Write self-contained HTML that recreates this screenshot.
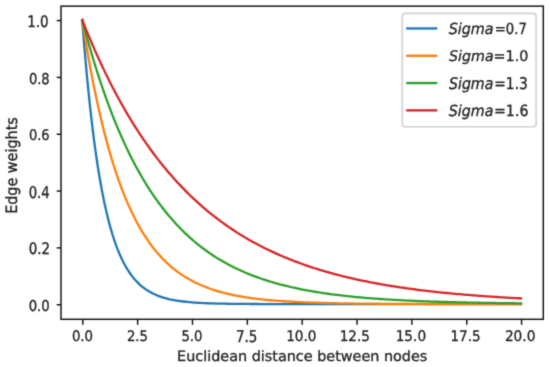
<!DOCTYPE html><html><head><meta charset="utf-8"><title>Edge weights</title><style>html,body{margin:0;padding:0;background:#fff}body{width:550px;height:367px;overflow:hidden}</style></head><body><svg width="550" height="367" viewBox="0 0 550 367" style="display:block">
<defs><filter id="soft" filterUnits="userSpaceOnUse" x="0" y="0" width="550" height="367" color-interpolation-filters="sRGB"><feConvolveMatrix order="3" kernelMatrix="0.01917 0.10012 0.01917 0.10012 0.52283 0.10012 0.01917 0.10012 0.01917" divisor="1" edgeMode="duplicate" preserveAlpha="false"/></filter></defs>
<rect width="550" height="367" fill="#fff"/>
<g filter="url(#soft)">
<g fill="none" stroke-width="2.29" stroke-linecap="square" stroke-linejoin="round">
<polyline points="82.21,19.96 84.41,47.52 86.60,72.41 88.80,94.88 90.99,115.18 93.18,133.51 95.38,150.05 97.57,165.00 99.77,178.49 101.96,190.67 104.15,201.68 106.35,211.61 108.54,220.58 110.74,228.68 112.93,236.00 115.12,242.60 117.32,248.57 119.51,253.96 121.71,258.82 123.90,263.21 126.09,267.18 128.29,270.76 130.48,273.99 132.67,276.91 134.87,279.55 137.06,281.93 139.26,284.08 141.45,286.02 143.64,287.77 145.84,289.36 148.03,290.79 150.23,292.08 152.42,293.24 154.61,294.29 156.81,295.25 159.00,296.10 161.20,296.88 163.39,297.58 165.58,298.21 167.78,298.78 169.97,299.30 172.17,299.76 174.36,300.18 176.55,300.56 178.75,300.90 180.94,301.21 183.14,301.49 185.33,301.74 187.52,301.97 189.72,302.18 191.91,302.36 194.10,302.53 196.30,302.68 198.49,302.82 200.69,302.94 202.88,303.05 205.07,303.15 207.27,303.25 209.46,303.33 211.66,303.40 213.85,303.47 216.04,303.53 218.24,303.58 220.43,303.63 222.63,303.68 224.82,303.72 227.01,303.75 229.21,303.79 231.40,303.82 233.60,303.84 235.79,303.87 237.98,303.89 240.18,303.91 242.37,303.93 244.56,303.94 246.76,303.96 248.95,303.97 251.15,303.98 253.34,303.99 255.53,304.00 257.73,304.01 259.92,304.02 262.12,304.03 264.31,304.03 266.50,304.04 268.70,304.04 270.89,304.05 273.09,304.05 275.28,304.06 277.47,304.06 279.67,304.06 281.86,304.07 284.06,304.07 286.25,304.07 288.44,304.07 290.64,304.07 292.83,304.08 295.03,304.08 297.22,304.08 299.41,304.08 301.61,304.08 303.80,304.08 305.99,304.08 308.19,304.08 310.38,304.09 312.58,304.09 314.77,304.09 316.96,304.09 319.16,304.09 321.35,304.09 323.55,304.09 325.74,304.09 327.93,304.09 330.13,304.09 332.32,304.09 334.52,304.09 336.71,304.09 338.90,304.09 341.10,304.09 343.29,304.09 345.49,304.09 347.68,304.09 349.87,304.09 352.07,304.09 354.26,304.09 356.45,304.09 358.65,304.09 360.84,304.09 363.04,304.09 365.23,304.09 367.42,304.09 369.62,304.09 371.81,304.09 374.01,304.09 376.20,304.09 378.39,304.09 380.59,304.09 382.78,304.09 384.98,304.09 387.17,304.09 389.36,304.09 391.56,304.09 393.75,304.09 395.95,304.09 398.14,304.09 400.33,304.09 402.53,304.09 404.72,304.09 406.91,304.09 409.11,304.09 411.30,304.09 413.50,304.09 415.69,304.09 417.88,304.09 420.08,304.09 422.27,304.09 424.47,304.09 426.66,304.09 428.85,304.09 431.05,304.09 433.24,304.09 435.44,304.09 437.63,304.09 439.82,304.09 442.02,304.09 444.21,304.09 446.41,304.09 448.60,304.09 450.79,304.09 452.99,304.09 455.18,304.09 457.38,304.09 459.57,304.09 461.76,304.09 463.96,304.09 466.15,304.09 468.34,304.09 470.54,304.09 472.73,304.09 474.93,304.09 477.12,304.09 479.31,304.09 481.51,304.09 483.70,304.09 485.90,304.09 488.09,304.09 490.28,304.09 492.48,304.09 494.67,304.09 496.87,304.09 499.06,304.09 501.25,304.09 503.45,304.09 505.64,304.09 507.84,304.09 510.03,304.09 512.22,304.09 514.42,304.09 516.61,304.09 518.80,304.09 521.00,304.09" stroke="#1f77b4"/>
<polyline points="82.21,19.96 84.41,33.81 86.60,47.00 88.80,59.54 90.99,71.46 93.18,82.81 95.38,93.60 97.57,103.87 99.77,113.63 101.96,122.92 104.15,131.76 106.35,140.16 108.54,148.16 110.74,155.76 112.93,163.00 115.12,169.88 117.32,176.42 119.51,182.65 121.71,188.57 123.90,194.21 126.09,199.56 128.29,204.66 130.48,209.51 132.67,214.12 134.87,218.51 137.06,222.69 139.26,226.66 141.45,230.43 143.64,234.03 145.84,237.44 148.03,240.69 150.23,243.79 152.42,246.73 154.61,249.52 156.81,252.19 159.00,254.72 161.20,257.12 163.39,259.42 165.58,261.59 167.78,263.67 169.97,265.64 172.17,267.51 174.36,269.30 176.55,270.99 178.75,272.61 180.94,274.14 183.14,275.61 185.33,276.99 187.52,278.32 189.72,279.57 191.91,280.77 194.10,281.91 196.30,282.99 198.49,284.02 200.69,285.00 202.88,285.93 205.07,286.81 207.27,287.66 209.46,288.46 211.66,289.22 213.85,289.95 216.04,290.64 218.24,291.29 220.43,291.92 222.63,292.51 224.82,293.07 227.01,293.61 229.21,294.12 231.40,294.61 233.60,295.07 235.79,295.51 237.98,295.93 240.18,296.33 242.37,296.71 244.56,297.07 246.76,297.41 248.95,297.74 251.15,298.05 253.34,298.34 255.53,298.62 257.73,298.89 259.92,299.14 262.12,299.38 264.31,299.61 266.50,299.83 268.70,300.04 270.89,300.24 273.09,300.42 275.28,300.60 277.47,300.77 279.67,300.94 281.86,301.09 284.06,301.24 286.25,301.38 288.44,301.51 290.64,301.63 292.83,301.75 295.03,301.87 297.22,301.98 299.41,302.08 301.61,302.18 303.80,302.27 305.99,302.36 308.19,302.44 310.38,302.52 312.58,302.60 314.77,302.67 316.96,302.74 319.16,302.81 321.35,302.87 323.55,302.93 325.74,302.99 327.93,303.04 330.13,303.09 332.32,303.14 334.52,303.19 336.71,303.23 338.90,303.27 341.10,303.31 343.29,303.35 345.49,303.39 347.68,303.42 349.87,303.45 352.07,303.49 354.26,303.52 356.45,303.54 358.65,303.57 360.84,303.60 363.04,303.62 365.23,303.64 367.42,303.66 369.62,303.69 371.81,303.71 374.01,303.72 376.20,303.74 378.39,303.76 380.59,303.78 382.78,303.79 384.98,303.81 387.17,303.82 389.36,303.83 391.56,303.85 393.75,303.86 395.95,303.87 398.14,303.88 400.33,303.89 402.53,303.90 404.72,303.91 406.91,303.92 409.11,303.93 411.30,303.93 413.50,303.94 415.69,303.95 417.88,303.96 420.08,303.96 422.27,303.97 424.47,303.98 426.66,303.98 428.85,303.99 431.05,303.99 433.24,304.00 435.44,304.00 437.63,304.01 439.82,304.01 442.02,304.01 444.21,304.02 446.41,304.02 448.60,304.02 450.79,304.03 452.99,304.03 455.18,304.03 457.38,304.04 459.57,304.04 461.76,304.04 463.96,304.04 466.15,304.05 468.34,304.05 470.54,304.05 472.73,304.05 474.93,304.06 477.12,304.06 479.31,304.06 481.51,304.06 483.70,304.06 485.90,304.06 488.09,304.06 490.28,304.07 492.48,304.07 494.67,304.07 496.87,304.07 499.06,304.07 501.25,304.07 503.45,304.07 505.64,304.07 507.84,304.07 510.03,304.08 512.22,304.08 514.42,304.08 516.61,304.08 518.80,304.08 521.00,304.08" stroke="#ff7f0e"/>
<polyline points="82.21,19.96 84.41,28.24 86.60,36.28 88.80,44.09 90.99,51.67 93.18,59.03 95.38,66.17 97.57,73.11 99.77,79.84 101.96,86.38 104.15,92.73 106.35,98.89 108.54,104.87 110.74,110.68 112.93,116.32 115.12,121.79 117.32,127.11 119.51,132.26 121.71,137.27 123.90,142.14 126.09,146.86 128.29,151.44 130.48,155.89 132.67,160.21 134.87,164.41 137.06,168.48 139.26,172.43 141.45,176.27 143.64,180.00 145.84,183.61 148.03,187.13 150.23,190.54 152.42,193.85 154.61,197.06 156.81,200.18 159.00,203.21 161.20,206.15 163.39,209.01 165.58,211.78 167.78,214.47 169.97,217.08 172.17,219.62 174.36,222.08 176.55,224.47 178.75,226.79 180.94,229.05 183.14,231.23 185.33,233.36 187.52,235.42 189.72,237.42 191.91,239.37 194.10,241.25 196.30,243.09 198.49,244.86 200.69,246.59 202.88,248.27 205.07,249.89 207.27,251.47 209.46,253.01 211.66,254.50 213.85,255.94 216.04,257.35 218.24,258.71 220.43,260.03 222.63,261.32 224.82,262.56 227.01,263.77 229.21,264.95 231.40,266.09 233.60,267.20 235.79,268.27 237.98,269.32 240.18,270.33 242.37,271.32 244.56,272.27 246.76,273.20 248.95,274.10 251.15,274.97 253.34,275.82 255.53,276.65 257.73,277.45 259.92,278.22 262.12,278.98 264.31,279.71 266.50,280.42 268.70,281.11 270.89,281.78 273.09,282.43 275.28,283.06 277.47,283.68 279.67,284.27 281.86,284.85 284.06,285.41 286.25,285.95 288.44,286.48 290.64,287.00 292.83,287.50 295.03,287.98 297.22,288.45 299.41,288.90 301.61,289.35 303.80,289.78 305.99,290.19 308.19,290.60 310.38,290.99 312.58,291.38 314.77,291.75 316.96,292.11 319.16,292.46 321.35,292.79 323.55,293.12 325.74,293.44 327.93,293.75 330.13,294.06 332.32,294.35 334.52,294.63 336.71,294.91 338.90,295.18 341.10,295.44 343.29,295.69 345.49,295.93 347.68,296.17 349.87,296.40 352.07,296.63 354.26,296.84 356.45,297.05 358.65,297.26 360.84,297.46 363.04,297.65 365.23,297.84 367.42,298.02 369.62,298.20 371.81,298.37 374.01,298.54 376.20,298.70 378.39,298.86 380.59,299.01 382.78,299.16 384.98,299.30 387.17,299.44 389.36,299.58 391.56,299.71 393.75,299.84 395.95,299.96 398.14,300.08 400.33,300.20 402.53,300.31 404.72,300.42 406.91,300.53 409.11,300.63 411.30,300.73 413.50,300.83 415.69,300.93 417.88,301.02 420.08,301.11 422.27,301.20 424.47,301.28 426.66,301.36 428.85,301.44 431.05,301.52 433.24,301.59 435.44,301.67 437.63,301.74 439.82,301.81 442.02,301.87 444.21,301.94 446.41,302.00 448.60,302.06 450.79,302.12 452.99,302.18 455.18,302.23 457.38,302.29 459.57,302.34 461.76,302.39 463.96,302.44 466.15,302.49 468.34,302.54 470.54,302.58 472.73,302.63 474.93,302.67 477.12,302.71 479.31,302.75 481.51,302.79 483.70,302.83 485.90,302.86 488.09,302.90 490.28,302.93 492.48,302.97 494.67,303.00 496.87,303.03 499.06,303.06 501.25,303.09 503.45,303.12 505.64,303.15 507.84,303.18 510.03,303.20 512.22,303.23 514.42,303.26 516.61,303.28 518.80,303.30 521.00,303.33" stroke="#2ca02c"/>
<polyline points="82.21,19.96 84.41,25.45 86.60,30.84 88.80,36.13 90.99,41.31 93.18,46.39 95.38,51.38 97.57,56.27 99.77,61.06 101.96,65.76 104.15,70.37 106.35,74.89 108.54,79.32 110.74,83.67 112.93,87.93 115.12,92.11 117.32,96.21 119.51,100.24 121.71,104.18 123.90,108.05 126.09,111.84 128.29,115.56 130.48,119.20 132.67,122.78 134.87,126.29 137.06,129.72 139.26,133.10 141.45,136.40 143.64,139.65 145.84,142.83 148.03,145.95 150.23,149.01 152.42,152.01 154.61,154.95 156.81,157.83 159.00,160.66 161.20,163.44 163.39,166.16 165.58,168.82 167.78,171.44 169.97,174.01 172.17,176.52 174.36,178.99 176.55,181.41 178.75,183.78 180.94,186.11 183.14,188.39 185.33,190.63 187.52,192.82 189.72,194.98 191.91,197.09 194.10,199.16 196.30,201.19 198.49,203.18 200.69,205.13 202.88,207.04 205.07,208.92 207.27,210.76 209.46,212.56 211.66,214.34 213.85,216.07 216.04,217.77 218.24,219.44 220.43,221.08 222.63,222.69 224.82,224.26 227.01,225.80 229.21,227.32 231.40,228.80 233.60,230.26 235.79,231.69 237.98,233.09 240.18,234.46 242.37,235.81 244.56,237.13 246.76,238.42 248.95,239.69 251.15,240.94 253.34,242.16 255.53,243.36 257.73,244.53 259.92,245.69 262.12,246.82 264.31,247.92 266.50,249.01 268.70,250.08 270.89,251.12 273.09,252.14 275.28,253.15 277.47,254.13 279.67,255.10 281.86,256.05 284.06,256.98 286.25,257.89 288.44,258.78 290.64,259.66 292.83,260.52 295.03,261.36 297.22,262.19 299.41,263.00 301.61,263.79 303.80,264.57 305.99,265.34 308.19,266.09 310.38,266.82 312.58,267.54 314.77,268.25 316.96,268.94 319.16,269.62 321.35,270.29 323.55,270.94 325.74,271.58 327.93,272.21 330.13,272.83 332.32,273.43 334.52,274.03 336.71,274.61 338.90,275.18 341.10,275.74 343.29,276.29 345.49,276.82 347.68,277.35 349.87,277.87 352.07,278.38 354.26,278.87 356.45,279.36 358.65,279.84 360.84,280.31 363.04,280.77 365.23,281.22 367.42,281.66 369.62,282.10 371.81,282.52 374.01,282.94 376.20,283.35 378.39,283.75 380.59,284.14 382.78,284.53 384.98,284.91 387.17,285.28 389.36,285.64 391.56,286.00 393.75,286.35 395.95,286.69 398.14,287.03 400.33,287.36 402.53,287.68 404.72,288.00 406.91,288.31 409.11,288.62 411.30,288.92 413.50,289.21 415.69,289.50 417.88,289.78 420.08,290.06 422.27,290.33 424.47,290.59 426.66,290.85 428.85,291.11 431.05,291.36 433.24,291.61 435.44,291.85 437.63,292.09 439.82,292.32 442.02,292.55 444.21,292.77 446.41,292.99 448.60,293.20 450.79,293.41 452.99,293.62 455.18,293.82 457.38,294.02 459.57,294.22 461.76,294.41 463.96,294.59 466.15,294.78 468.34,294.96 470.54,295.14 472.73,295.31 474.93,295.48 477.12,295.64 479.31,295.81 481.51,295.97 483.70,296.13 485.90,296.28 488.09,296.43 490.28,296.58 492.48,296.72 494.67,296.87 496.87,297.01 499.06,297.14 501.25,297.28 503.45,297.41 505.64,297.54 507.84,297.67 510.03,297.79 512.22,297.91 514.42,298.03 516.61,298.15 518.80,298.26 521.00,298.38" stroke="#d62728"/>
</g>
<g fill="none" stroke="#111" stroke-width="1.45">
<rect x="61.00" y="6.14" width="482.30" height="313.16"/>
<line x1="82.80" x2="82.80" y1="319.30" y2="324.78"/>
<line x1="137.65" x2="137.65" y1="319.30" y2="324.78"/>
<line x1="192.50" x2="192.50" y1="319.30" y2="324.78"/>
<line x1="247.34" x2="247.34" y1="319.30" y2="324.78"/>
<line x1="302.19" x2="302.19" y1="319.30" y2="324.78"/>
<line x1="357.04" x2="357.04" y1="319.30" y2="324.78"/>
<line x1="411.89" x2="411.89" y1="319.30" y2="324.78"/>
<line x1="466.74" x2="466.74" y1="319.30" y2="324.78"/>
<line x1="521.58" x2="521.58" y1="319.30" y2="324.78"/>
<line x1="56.70" x2="61.00" y1="304.73" y2="304.73"/>
<line x1="56.70" x2="61.00" y1="247.90" y2="247.90"/>
<line x1="56.70" x2="61.00" y1="191.07" y2="191.07"/>
<line x1="56.70" x2="61.00" y1="134.25" y2="134.25"/>
<line x1="56.70" x2="61.00" y1="77.42" y2="77.42"/>
<line x1="56.70" x2="61.00" y1="20.59" y2="20.59"/>
</g>
<rect x="402.22" y="13.30" width="133.88" height="113.40" rx="3.06" fill="#fff" fill-opacity="0.8" stroke="#d2d2d2" stroke-width="1.65"/>
<line x1="406.21" x2="437.28" y1="28.46" y2="28.46" stroke="#1f77b4" stroke-width="2.35"/>
<line x1="406.21" x2="437.28" y1="55.76" y2="55.76" stroke="#ff7f0e" stroke-width="2.35"/>
<line x1="406.21" x2="437.28" y1="83.06" y2="83.06" stroke="#2ca02c" stroke-width="2.35"/>
<line x1="406.21" x2="437.28" y1="110.36" y2="110.36" stroke="#d62728" stroke-width="2.35"/>
<g font-family="'DejaVu Sans', 'Liberation Sans', sans-serif" font-size="14.42" fill="#222" stroke="#222" stroke-width="0.3" stroke-linejoin="round" text-rendering="geometricPrecision">
<text transform="translate(82.48,341.21) scale(0.9258,1.0050)" text-anchor="middle">0.0</text>
<text transform="translate(137.44,341.05) scale(0.9174,0.9969)" text-anchor="middle">2.5</text>
<text transform="translate(191.95,341.08) scale(0.9196,0.9999)" text-anchor="middle">5.0</text>
<text transform="translate(246.54,341.92) scale(0.9303,1.1205)" text-anchor="middle">7.5</text>
<text transform="translate(301.30,341.01) scale(0.9423,1.0130)" text-anchor="middle">10.0</text>
<text transform="translate(354.77,341.05) scale(0.9433,0.9992)" text-anchor="middle">12.5</text>
<text transform="translate(410.85,340.96) scale(0.9492,1.0214)" text-anchor="middle">15.0</text>
<text transform="translate(465.57,341.24) scale(0.9426,0.9980)" text-anchor="middle">17.5</text>
<text transform="translate(520.14,341.02) scale(0.9492,1.0025)" text-anchor="middle">20.0</text>
<text transform="translate(49.72,311.40) scale(0.9203,1.0429)" text-anchor="end">0.0</text>
<text transform="translate(50.18,253.57) scale(0.9350,1.0955)" text-anchor="end">0.2</text>
<text transform="translate(49.73,197.55) scale(0.9203,1.1297)" text-anchor="end">0.4</text>
<text transform="translate(49.63,140.15) scale(0.9049,1.0071)" text-anchor="end">0.6</text>
<text transform="translate(49.64,83.98) scale(0.9057,1.0419)" text-anchor="end">0.8</text>
<text transform="translate(48.66,26.75) scale(0.9353,1.0958)" text-anchor="end">1.0</text>
<text transform="translate(302.20,361.36) scale(0.9984,0.9879)" text-anchor="middle">Euclidean distance between nodes</text>
<text transform="translate(16.96,165.54) rotate(-90) scale(0.9967,1.0790)" text-anchor="middle">Edge weights</text>
<text transform="translate(448.68,33.92) scale(0.9952,1.0586)" text-anchor="start" font-style="italic">Sigma</text>
<text transform="translate(494.73,34.21) scale(0.9161,1.0636)" text-anchor="start">=0.7</text>
<text transform="translate(449.08,61.17) scale(0.9861,1.0115)" text-anchor="start" font-style="italic">Sigma</text>
<text transform="translate(493.62,61.03) scale(0.9937,1.0134)" text-anchor="start">=1.0</text>
<text transform="translate(449.00,88.89) scale(0.9808,1.1073)" text-anchor="start" font-style="italic">Sigma</text>
<text transform="translate(494.29,88.61) scale(0.9582,1.1278)" text-anchor="start">=1.3</text>
<text transform="translate(448.82,115.82) scale(0.9886,1.0552)" text-anchor="start" font-style="italic">Sigma</text>
<text transform="translate(494.00,116.34) scale(0.9836,1.0797)" text-anchor="start">=1.6</text>
</g></g></svg></body></html>
